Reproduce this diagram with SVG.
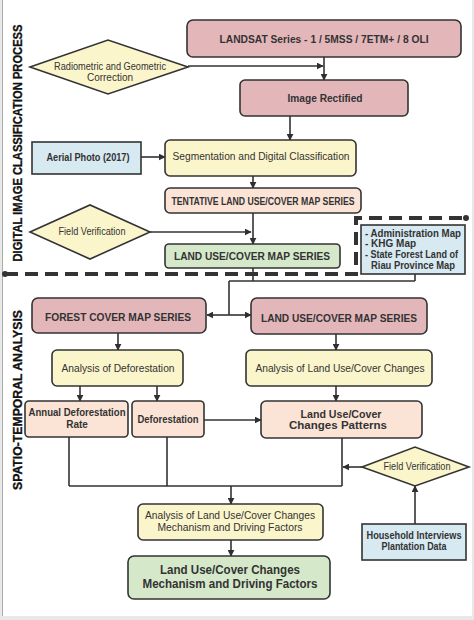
<svg xmlns="http://www.w3.org/2000/svg" width="474" height="620" viewBox="0 0 474 620">
<defs>
<marker id="ah" viewBox="0 0 10 10" refX="9" refY="5" markerWidth="7" markerHeight="7" markerUnits="userSpaceOnUse" orient="auto-start-reverse">
<path d="M0,0 L10,5 L0,10 z" fill="#2f2f2f"/>
</marker>
<style>
.n{stroke:#333;stroke-width:1.6}
.pink{fill:#e3b7ba}
.yel{fill:#fbf5cb}
.blue{fill:#d7e9f1}
.peach{fill:#fbe4d5}
.green{fill:#d5e9ca}
text{font-family:"Liberation Sans",Arial,sans-serif;fill:#333;text-anchor:middle}
text.l{text-anchor:start}
.b{font-weight:bold}
.v{fill:#111;font-weight:bold}
.c{stroke:#333;stroke-width:1.6;fill:none}
.a{marker-end:url(#ah)}
.dash{stroke:#333;stroke-width:4;fill:none;stroke-dasharray:13 7}
</style>
</defs>
<rect x="0" y="0" width="474" height="620" fill="#e8e8e8"/>
<rect x="3" y="0" width="469" height="616" fill="#ffffff"/>
<line x1="2.5" y1="0" x2="2.5" y2="616" stroke="#9a9a9a" stroke-width="0.8"/>

<g id="labels">
<text class="v" transform="translate(21.5,143) rotate(-90)" font-size="12" stroke="#111" stroke-width="0.3" textLength="237" lengthAdjust="spacingAndGlyphs">DIGITAL IMAGE CLASSIFICATION PROCESS</text>
<text class="v" transform="translate(21.5,400) rotate(-90)" font-size="12" stroke="#111" stroke-width="0.3" textLength="180" lengthAdjust="spacingAndGlyphs">SPATIO-TEMPORAL ANALYSIS</text>
</g>

<g id="connectors">
<path class="dash" d="M5,274 H356 V218 H466"/>
<circle cx="5" cy="274" r="3" fill="#333"/>
<circle cx="466" cy="218" r="3" fill="#333"/>
<path class="c a" d="M188,66 H323"/>
<path class="c a" d="M324,57 V80"/>
<path class="c a" d="M290,116 V140"/>
<path class="c a" d="M141,157 H165"/>
<path class="c a" d="M253,175 V188"/>
<path class="c a" d="M253,213 V244"/>
<path class="c a" d="M150,232 H251"/>
<path class="c" d="M253,268 V281 M415,274 V281 M229,281 H415 M229,281 V315"/>
<path class="c a" d="M229,315 H207"/>
<path class="c a" d="M229,315 H251"/>
<path class="c a" d="M118,333 V350"/>
<path class="c a" d="M336,334 V350"/>
<path class="c a" d="M80,386 V401"/>
<path class="c a" d="M157,386 V401"/>
<path class="c a" d="M336,386 V401"/>
<path class="c a" d="M204,420 H261"/>
<path class="c" d="M69,437 V486 M167,437 V486 M342,438 V486 M69,486 H342"/>
<path class="c a" d="M231,486 V504"/>
<path class="c a" d="M362,467 H343"/>
<path class="c a" d="M415,524 V486"/>
<path class="c a" d="M231,540 V556"/>
</g>

<g id="landsat">
<rect class="n pink" x="187" y="20" width="274" height="37" rx="6"/>
<text class="b" x="324" y="43" font-size="11" textLength="209" lengthAdjust="spacingAndGlyphs">LANDSAT Series - 1 / 5MSS / 7ETM+ / 8 OLI</text>
</g>
<g id="radiometric">
<polygon class="n yel" points="30,67 108,40 188,67 108,94"/>
<text x="110" y="70" font-size="10" textLength="112" lengthAdjust="spacingAndGlyphs">Radiometric and Geometric</text>
<text x="110" y="81" font-size="10">Correction</text>
</g>
<g id="rectified">
<rect class="n pink" x="240" y="80" width="168" height="36" rx="5"/>
<text class="b" x="325" y="102" font-size="11" textLength="75" lengthAdjust="spacingAndGlyphs">Image Rectified</text>
</g>
<g id="aerial">
<rect class="n blue" x="32" y="142" width="109" height="32"/>
<text class="b" x="88" y="161" font-size="10" textLength="83" lengthAdjust="spacingAndGlyphs">Aerial Photo (2017)</text>
</g>
<g id="segmentation">
<rect class="n yel" x="165" y="140" width="191" height="36" rx="5"/>
<text x="261" y="160" font-size="11" textLength="177" lengthAdjust="spacingAndGlyphs">Segmentation and Digital Classification</text>
</g>
<g id="tentative">
<rect class="n peach" x="165" y="188" width="196" height="25" rx="5"/>
<text class="b" x="263" y="205" font-size="10" textLength="183" lengthAdjust="spacingAndGlyphs">TENTATIVE LAND USE/COVER MAP SERIES</text>
</g>
<g id="field1">
<polygon class="n yel" points="30,232 90,205 150,232 90,259"/>
<text x="92" y="235" font-size="10" textLength="67" lengthAdjust="spacingAndGlyphs">Field Verification</text>
</g>
<g id="luc1">
<rect class="n green" x="165" y="244" width="175" height="24" rx="4"/>
<text class="b" x="252" y="260" font-size="11.5" textLength="156" lengthAdjust="spacingAndGlyphs">LAND USE/COVER MAP SERIES</text>
</g>
<g id="admin">
<rect class="n blue" x="361" y="225" width="104" height="49"/>
<text class="b l" x="365" y="237" font-size="10" textLength="96" lengthAdjust="spacingAndGlyphs">- Administration Map</text>
<text class="b l" x="365" y="247" font-size="10">- KHG Map</text>
<text class="b l" x="365" y="258" font-size="10" textLength="93" lengthAdjust="spacingAndGlyphs">- State Forest Land of</text>
<text class="b l" x="371" y="269" font-size="10" textLength="84" lengthAdjust="spacingAndGlyphs">Riau Province Map</text>
</g>
<g id="forest">
<rect class="n pink" x="32" y="298" width="174" height="35" rx="6"/>
<text class="b" x="118" y="321" font-size="11" textLength="146" lengthAdjust="spacingAndGlyphs">FOREST COVER MAP SERIES</text>
</g>
<g id="luc2">
<rect class="n pink" x="251" y="298" width="176" height="36" rx="6"/>
<text class="b" x="339" y="322" font-size="11" textLength="156" lengthAdjust="spacingAndGlyphs">LAND USE/COVER MAP SERIES</text>
</g>
<g id="anadefor">
<rect class="n yel" x="52" y="350" width="131" height="36" rx="5"/>
<text x="118" y="372" font-size="11" textLength="113" lengthAdjust="spacingAndGlyphs">Analysis of Deforestation</text>
</g>
<g id="analuc">
<rect class="n yel" x="246" y="350" width="186" height="36" rx="5"/>
<text x="340" y="372" font-size="11" textLength="169" lengthAdjust="spacingAndGlyphs">Analysis of Land Use/Cover Changes</text>
</g>
<g id="annual">
<rect class="n peach" x="25" y="401" width="103" height="36" rx="4"/>
<text class="b" x="77" y="416" font-size="10" textLength="97" lengthAdjust="spacingAndGlyphs">Annual Deforestation</text>
<text class="b" x="77" y="428" font-size="10">Rate</text>
</g>
<g id="defor">
<rect class="n peach" x="132" y="401" width="72" height="36" rx="4"/>
<text class="b" x="168" y="423" font-size="10" textLength="61" lengthAdjust="spacingAndGlyphs">Deforestation</text>
</g>
<g id="patterns">
<rect class="n peach" x="261" y="401" width="161" height="37" rx="5"/>
<text class="b" x="341" y="418" font-size="11.5" textLength="81" lengthAdjust="spacingAndGlyphs">Land Use/Cover</text>
<text class="b" x="338" y="429" font-size="11.5" textLength="98" lengthAdjust="spacingAndGlyphs">Changes Patterns</text>
</g>
<g id="field2">
<polygon class="n yel" points="362,467 415,447 469,467 415,486"/>
<text x="417" y="470" font-size="10" textLength="67" lengthAdjust="spacingAndGlyphs">Field Verification</text>
</g>
<g id="household">
<rect class="n blue" x="362" y="524" width="104" height="36"/>
<text class="b" x="414" y="539" font-size="10" textLength="95" lengthAdjust="spacingAndGlyphs">Household Interviews</text>
<text class="b" x="414" y="550" font-size="10" textLength="65" lengthAdjust="spacingAndGlyphs">Plantation Data</text>
</g>
<g id="mechanism">
<rect class="n yel" x="138" y="504" width="185" height="36" rx="5"/>
<text x="230" y="519" font-size="11" textLength="170" lengthAdjust="spacingAndGlyphs">Analysis of Land Use/Cover Changes</text>
<text x="230" y="531" font-size="11" textLength="145" lengthAdjust="spacingAndGlyphs">Mechanism and Driving Factors</text>
</g>
<g id="final">
<rect class="n green" x="128" y="556" width="202" height="43" rx="6"/>
<text class="b" x="230" y="574" font-size="12.5" textLength="140" lengthAdjust="spacingAndGlyphs">Land Use/Cover Changes</text>
<text class="b" x="230" y="588" font-size="12.5" textLength="175" lengthAdjust="spacingAndGlyphs">Mechanism and Driving Factors</text>
</g>
</svg>
